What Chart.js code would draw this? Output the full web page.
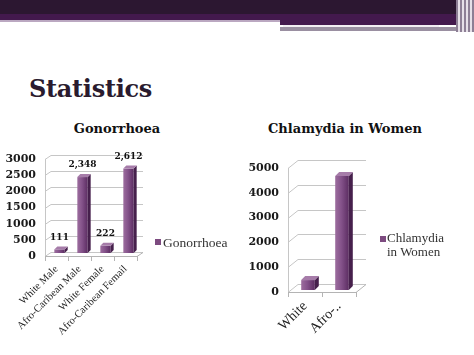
<!DOCTYPE html>
<html>
<head>
<meta charset="utf-8">
<script src="https://cdn.jsdelivr.net/npm/chart.js@4.4.1/dist/chart.umd.min.js"></script>
<style>
  html,body{margin:0;padding:0;background:#fff;}
  body{width:474px;height:355px;position:relative;overflow:hidden;font-family:"Liberation Serif",serif;}
  .abs{position:absolute;}
  .ttl{font-family:"DejaVu Serif",serif;font-weight:bold;color:#111;font-size:13px;white-space:nowrap;text-align:center;}
  .leg{font-family:"Liberation Serif",serif;color:#333;white-space:nowrap;}
  .mk{position:absolute;width:6px;height:6px;background:#7d4b80;}
  canvas{position:absolute;}
</style>
</head>
<body>
<!-- header bands -->
<div class="abs" style="left:0;top:0;width:474px;height:14px;background:#2c1731;"></div>
<div class="abs" style="left:0;top:14px;width:474px;height:6px;background:#43194d;"></div>
<div class="abs" style="left:0;top:20px;width:280px;height:2px;background:#bba8c1;"></div>
<div class="abs" style="left:280px;top:20px;width:182px;height:5px;background:#43194d;"></div>
<div class="abs" style="left:283px;top:25px;width:156px;height:2px;background:#f2eef3;"></div>
<div class="abs" style="left:280px;top:27px;width:185px;height:4px;background:#9a8fa1;"></div>
<div class="abs" style="left:456px;top:0;width:18px;height:32px;background:repeating-linear-gradient(90deg,#8d7f95 0px,#8d7f95 2px,#e6e0e8 2px,#e6e0e8 4px);"></div>

<div class="abs" style="left:29px;top:74px;font-family:'DejaVu Serif',serif;font-weight:bold;font-size:24px;letter-spacing:-0.3px;color:#2a1b2e;">Statistics</div>

<div class="abs ttl" style="left:37px;top:121px;width:160px;">Gonorrhoea</div>
<div class="abs ttl" style="left:265px;top:121px;width:160px;">Chlamydia in Women</div>

<canvas id="c1" width="240" height="215" style="left:0;top:140px;"></canvas>
<canvas id="c2" width="234" height="215" style="left:240px;top:140px;"></canvas>

<div class="abs leg" id="leg1" style="left:155px;top:236px;font-size:13.5px;line-height:14px;">
  <span class="mk" style="left:0;top:3px;"></span><span style="position:absolute;left:8px;top:0;" id="leg1t"></span>
</div>
<div class="abs leg" id="leg2" style="left:380px;top:231px;font-size:13px;line-height:14px;">
  <span class="mk" style="left:0;top:5px;"></span><span style="position:absolute;left:7px;top:0;width:70px;white-space:normal;" id="leg2t"></span>
</div>

<script>
// ---- data ----
const gonoCategories = ["White Male", "Afro-Caribean Male", "White Female", "Afro-Caribean Femail"];
const gonoValues = [111, 2348, 222, 2612];
const gonoLabel = "Gonorrhoea";
const gonoTicks = [0, 500, 1000, 1500, 2000, 2500, 3000];

const chlaCategories = ["White", "Afro-.."];
const chlaValues = [400, 4600];
const chlaLabel = "Chlamydia in Women";
const chlaTicks = [0, 1000, 2000, 3000, 4000, 5000];

document.getElementById('leg1t').textContent = gonoLabel;
document.getElementById('leg2t').textContent = chlaLabel;

function barFill(c) {
  const chart = c.chart;
  const meta = chart.getDatasetMeta(c.datasetIndex);
  const el = meta.data[c.dataIndex];
  if (!el || typeof el.x !== 'number' || isNaN(el.x) || !el.width) return '#7a4a7d';
  const g = chart.ctx.createLinearGradient(el.x - el.width / 2, 0, el.x + el.width / 2, 0);
  g.addColorStop(0, '#9c6d9e');
  g.addColorStop(0.45, '#84528a');
  g.addColorStop(1, '#5c2d62');
  return g;
}

const threeD = {
  id: 'threeD',
  beforeDatasetsDraw(chart, args, o) {
    const {ctx, chartArea: {left, right, top, bottom}, scales: {y}} = chart;
    ctx.save();
    ctx.strokeStyle = '#c6c6c6';
    ctx.lineWidth = 1;
    y.ticks.forEach(t => {
      const py = Math.round(y.getPixelForValue(t.value)) + 0.5;
      ctx.beginPath();
      ctx.moveTo(left, py);
      ctx.lineTo(left + o.dx, py + o.dy);
      ctx.lineTo(right + o.dx, py + o.dy);
      ctx.stroke();
    });
    ctx.beginPath();
    ctx.moveTo(Math.round(left) + 0.5, top);
    ctx.lineTo(Math.round(left) + 0.5, bottom);
    ctx.stroke();
    ctx.strokeStyle = '#b4b4b4';
    ctx.beginPath();
    ctx.moveTo(left, Math.round(bottom) + 0.5);
    ctx.lineTo(right, Math.round(bottom) + 0.5);
    ctx.lineTo(right + o.dx, Math.round(bottom) + 0.5 + o.dy);
    ctx.stroke();
    ctx.restore();
    ctx.save();
    ctx.translate(o.ox, o.oy);
  },
  afterDatasetsDraw(chart, args, o) {
    const {ctx} = chart;
    const meta = chart.getDatasetMeta(0);
    meta.data.forEach(el => {
      const l = el.x - el.width / 2, r = el.x + el.width / 2, t = el.y, b = el.base;
      ctx.fillStyle = '#46204c';
      ctx.beginPath();
      ctx.moveTo(r, t); ctx.lineTo(r + o.bx, t + o.by); ctx.lineTo(r + o.bx, b + o.by); ctx.lineTo(r, b);
      ctx.closePath(); ctx.fill();
      ctx.fillStyle = '#a67ca9';
      ctx.beginPath();
      ctx.moveTo(l, t); ctx.lineTo(l + o.bx, t + o.by); ctx.lineTo(r + o.bx, t + o.by); ctx.lineTo(r, t);
      ctx.closePath(); ctx.fill();
    });
    ctx.restore();
    if (o.labels) {
      ctx.save();
      ctx.font = 'bold 9px "DejaVu Serif"';
      ctx.fillStyle = '#111';
      ctx.textAlign = 'center';
      ctx.textBaseline = 'middle';
      const vals = chart.data.datasets[0].data;
      meta.data.forEach((el, i) => {
        ctx.fillText(vals[i].toLocaleString('en-US'), el.x + o.ox + o.lx, el.y + o.oy - 12);
      });
      ctx.restore();
    }
  }
};

function makeChart(id, cats, vals, label, ticks, cfg) {
  const chart = new Chart(document.getElementById(id), {
    type: 'bar',
    data: {labels: cats, datasets: [{label: label, data: vals, backgroundColor: barFill, borderWidth: 0,
      barPercentage: cfg.barPct, categoryPercentage: 1}]},
    options: {
      responsive: false, animation: false, devicePixelRatio: 1,
      layout: {padding: {top: cfg.padTop, right: cfg.padRight, left: 0, bottom: 0}},
      plugins: {legend: {display: false}, title: {display: false}, tooltip: {enabled: false},
        threeD: cfg.d3},
      scales: {
        y: {
          min: 0, max: ticks[ticks.length - 1],
          afterBuildTicks: s => { s.ticks = ticks.map(v => ({value: v})); },
          afterFit: s => { s.width = cfg.yWidth; },
          grid: {display: false, drawTicks: false},
          border: {display: false},
          ticks: {autoSkip: false, padding: cfg.yPad, color: '#1a1a1a', callback: v => String(v),
            font: {family: 'DejaVu Serif', weight: 'bold', size: 11}}
        },
        x: {
          afterFit: s => { s.height = cfg.xHeight; },
          grid: {display: true, drawOnChartArea: false, drawTicks: true, tickLength: 5, color: '#b4b4b4', offset: true},
          border: {display: false},
          ticks: {autoSkip: false, minRotation: 45, maxRotation: 45, padding: cfg.xPad, color: '#222',
            font: {family: 'Liberation Serif', size: cfg.xFont}}
        }
      }
    },
    plugins: [threeD]
  });
  chart.update();
  return chart;
}

makeChart('c1', gonoCategories, gonoValues, gonoLabel, gonoTicks, {
  barPct: 0.45, padTop: 19, padRight: 103, yWidth: 45, yPad: 9, xHeight: 99, xPad: 2, xFont: 10.5,
  d3: {dx: 6, dy: -4, ox: 3, oy: -3, bx: 3, by: -3, labels: true, lx: 0}
});
makeChart('c2', chlaCategories, chlaValues, chlaLabel, chlaTicks, {
  barPct: 0.4, padTop: 28, padRight: 118, yWidth: 48, yPad: 9, xHeight: 63, xPad: 1, xFont: 14,
  d3: {dx: 10, dy: -8, ox: 3, oy: -2, bx: 4, by: -4, labels: false}
});
</script>
</body>
</html>
